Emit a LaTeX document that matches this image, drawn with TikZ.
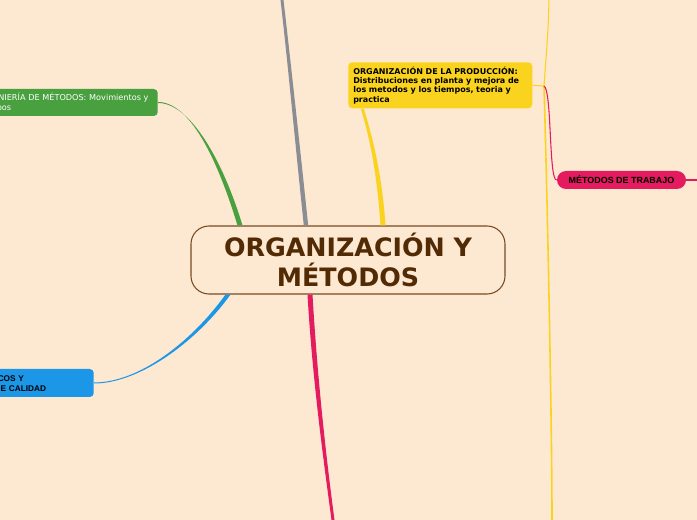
\documentclass[tikz,border=0pt]{standalone}
\usepackage{fontspec}
\usetikzlibrary{calc}
\newfontfamily\dvs{DejaVu Sans}
\newfontfamily\lsans{Liberation Sans}
\definecolor{bgc}{RGB}{253,232,210}
\definecolor{cborder}{RGB}{120,75,35}
\definecolor{ctext}{RGB}{82,42,4}
\definecolor{gG}{RGB}{72,160,62}
\definecolor{yY}{RGB}{250,211,30}
\definecolor{bB}{RGB}{28,150,230}
\definecolor{rR}{RGB}{228,27,94}
\definecolor{grY}{RGB}{138,141,147}
% tapered connector: #1 colour, #2 start, #3 ctrl rel start, #4 ctrl rel end, #5 end, #6 half width at start, #7 half width at end
\newcommand\taper[7]{\fill[#1] ($#2+#6$) .. controls +#3 and +#4 .. ($#5+#7$) -- ($#5-#7$) .. controls +#4 and +#3 .. ($#2-#6$) -- cycle;}
\begin{document}
\begin{tikzpicture}[x=0.75pt,y=-0.75pt,
  topic/.style={rounded corners=3pt, inner xsep=3pt, inner ysep=0pt, align=left},
  central/.style={draw=cborder, line width=0.8pt, fill=bgc, rounded corners=13.5pt,
    minimum width=235.5pt, minimum height=51pt, align=center, text=ctext,
    font=\dvs\bfseries\fontsize{19}{22.5}\selectfont},
  thin/.style={line width=0.8pt}]
\useasboundingbox (0,0) rectangle (697,520);
\fill[bgc] (0,0) rectangle (697,520);
\clip (0,0) rectangle (697,520);

% nodes
\node[central] (cen) at (348,260) {ORGANIZACIÓN Y\\MÉTODOS};
\node[topic, fill=gG, text=white, font=\dvs\fontsize{6.1}{6.9}\selectfont,
  text width=131.5pt, minimum height=20.25pt, anchor=east] (ing) at (158,102.5)
  {INGENIERÍA DE MÉTODOS: Movimientos y\\tiempos};
\node[topic, fill=bB, text=black, font=\lsans\bfseries\fontsize{6.2}{7.5}\selectfont,
  text width=104pt, minimum height=21pt, anchor=east] (cal) at (94,383)
  {ESTRATÉGICOS Y\\CONTROL DE CALIDAD};
\node[topic, fill=yY, text=black, font=\dvs\bfseries\fontsize{6}{7}\selectfont,
  text width=130.5pt, inner xsep=3.75pt, minimum height=34.5pt, anchor=north west] (prod) at (348,62)
  {ORGANIZACIÓN DE LA PRODUCCIÓN:\\Distribuciones en planta y mejora de\\los metodos y los tiempos, teoria y\\practica};
\node[fill=rR, rounded corners=6.75pt, minimum width=96.75pt, minimum height=13.5pt, inner sep=0pt,
  text=black, font=\lsans\bfseries\fontsize{6.7}{8}\selectfont] (trab) at (621.5,180) {MÉTODOS DE TRABAJO};

% free ends
\coordinate (gtop) at (282,0);
\coordinate (rbot) at (333,520);
\coordinate (j) at (544,86);
\coordinate (ytop) at (549,0);
\coordinate (ybot) at (552,520);
\coordinate (rend) at (697,180);
\coordinate (grA) at ($(cen.north)+(-42,0)$);
\coordinate (rA) at ($(cen.south)+(-38,0)$);
\coordinate (yA) at ($(cen.north)+(35,0)$);
\coordinate (yB) at ($(prod.south)+(-78,0)$);
\coordinate (gA) at ($(cen.north)+(-108,0)$);
\coordinate (bA) at ($(cen.south)+(-120,0)$);

% main branches (tapered)
\taper{grY}{(grA)}{(-8,-76)}{(7,60)}{(gtop)}{(2.2,0)}{(1.5,0)}
\taper{rR}{(rA)}{(5,86)}{(-8,-60)}{(rbot)}{(2.5,0)}{(1.5,0)}
\taper{yY}{(yA)}{(-3,-46)}{(10,32)}{(yB)}{(2.5,0)}{(1.5,0)}
\taper{gG}{(gA)}{(-20,-66)}{(32,0)}{(ing.east)}{(2.5,0)}{(0,0.5)}
\taper{bB}{(bA)}{(-33,46)}{(46,0)}{(cal.east)}{(2.5,0)}{(0,0.5)}

% sub-branches
\draw[thin, yY] (prod.east) -- (j);
\draw[thin, yY] (j) .. controls +(2,-30) and +(-1,40) .. (ytop);
\draw[line width=1.2pt, yY] (j) .. controls +(3,100) and +(0,-100) .. (ybot);
\draw[thin, rR] (j) .. controls +(8,4) and +(-8,2) .. (trab.west);
\draw[line width=1.1pt, rR] (trab.east) -- (rend);
\end{tikzpicture}
\end{document}
